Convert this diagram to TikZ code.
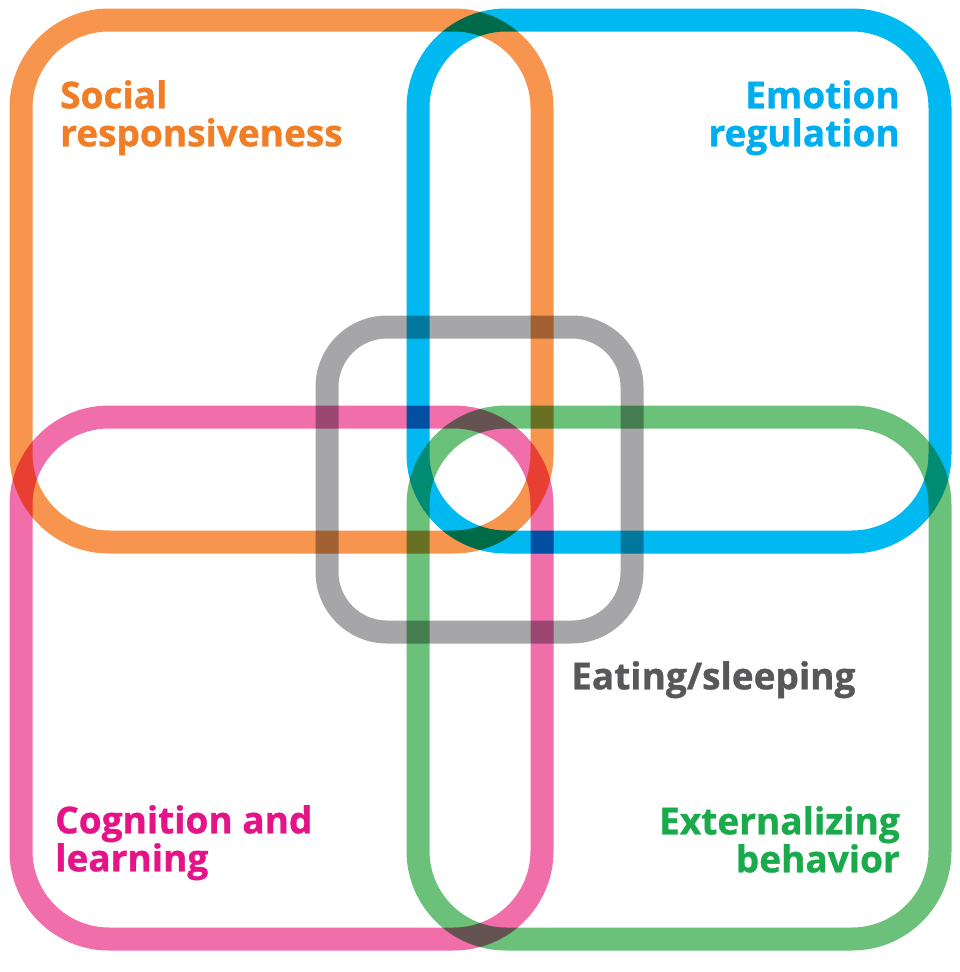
\documentclass[tikz,border=0pt]{standalone}
\usepackage{fontspec}
\setmainfont{Open Sans}[BoldFeatures={FakeBold=0.9}]
\definecolor{orangeline}{RGB}{247, 148, 77}
\definecolor{blueline}{RGB}{0, 185, 241}
\definecolor{pinkline}{RGB}{240, 110, 170}
\definecolor{greenline}{RGB}{108, 193, 122}
\definecolor{grayline}{RGB}{166, 166, 168}
\definecolor{orangetext}{RGB}{240, 126, 38}
\definecolor{bluetext}{RGB}{0, 174, 239}
\definecolor{pinktext}{RGB}{228, 19, 135}
\definecolor{greentext}{RGB}{26, 170, 75}
\definecolor{graytext}{RGB}{88, 88, 90}
\usetikzlibrary{positioning}
\tikzset{
  domain line/.style={line width=23pt, blend mode=multiply, rounded corners=88pt},
  domain label/.style={inner sep=0pt, font=\bfseries\fontsize{37}{38}\selectfont}
}
\begin{document}
\begin{tikzpicture}[x=1pt, y=-1pt]
                \useasboundingbox (0,0) rectangle (960,972);

                % Four large domains
                \draw[domain line, orangeline] (21,20) rectangle (542,542);
                \draw[domain line, blueline] (418,20) rectangle (940,542);
                \draw[domain line, pinkline] (21,417) rectangle (542,939);
                \draw[domain line, greenline] (418,417) rectangle (940,939);

                % Central domain
                \draw[domain line, grayline, rounded corners=60pt] (327,327) rectangle (632,632);

                % Labels
                \node[domain label, orangetext, align=left, anchor=north west] (social) at (60,80) {Social\\responsiveness};
                \node[domain label, bluetext, align=right, anchor=north east] (emotion) at (900,80) {Emotion\\regulation};
                \node[domain label, pinktext, align=left, anchor=north west] (cognition) at (55,805) {Cognition and\\learning};
                \node[domain label, greentext, align=right, anchor=north east] (externalizing) at (900,806) {Externalizing\\behavior};
                \node[domain label, graytext, anchor=north west] (eating) at (571,661) {Eating/sleeping};
            \end{tikzpicture}
\end{document}
